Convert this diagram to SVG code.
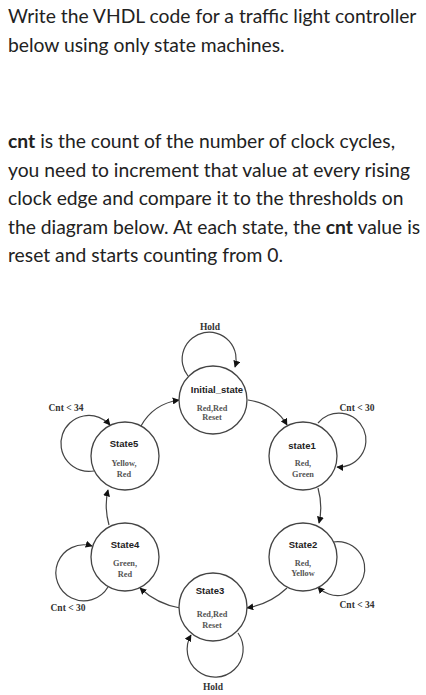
<svg xmlns="http://www.w3.org/2000/svg" width="426" height="695" viewBox="0 0 426 695">
<style>
.hd{font-family:Lato,"Open Sans",sans-serif;font-size:19.3px;fill:#222}
.b{font-weight:bold}
.nt{font-family:"Liberation Sans",Arial,sans-serif;font-weight:bold;font-size:9.5px;fill:#222;text-anchor:middle}
.ns{font-family:"Liberation Serif","Times New Roman",serif;font-weight:bold;font-size:8.3px;fill:#555;text-anchor:middle}
.lb{font-family:"Liberation Serif","Times New Roman",serif;font-weight:bold;font-size:9.5px;fill:#333;text-anchor:middle}
.st{fill:#fff;stroke:#444;stroke-width:1.3}
.cn{fill:none;stroke:#444;stroke-width:1.2;marker-end:url(#ah)}
</style>
<defs>
<marker id="ah" viewBox="0 0 10 10" refX="9" refY="5" markerWidth="7" markerHeight="7" markerUnits="userSpaceOnUse" orient="auto">
<path d="M0,0 L10,5 L0,10 z" fill="#111"/>
</marker>
</defs>
<rect width="426" height="695" fill="#fff"/>
<g id="text">
<text class="hd" x="8" y="23">Write the VHDL code for a traffic light controller</text>
<text class="hd" x="8" y="52">below using only state machines.</text>
<text class="hd" x="8" y="148"><tspan class="b">cnt</tspan> is the count of the number of clock cycles,</text>
<text class="hd" x="8" y="177">you need to increment that value at every rising</text>
<text class="hd" x="8" y="205">clock edge and compare it to the thresholds on</text>
<text class="hd" x="8" y="234">the diagram below. At each state, the <tspan class="b">cnt</tspan> value is</text>
<text class="hd" x="8" y="262">reset and starts counting from 0.</text>
</g>
<g id="connectors">
<path class="cn" d="M188,376 A27,27 0 1 1 235,367"/>
<path class="cn" d="M238,633 A28,28 0 1 1 191,635"/>
<path class="cn" d="M94,471 A28,28 0 1 1 110,425"/>
<path class="cn" d="M318,423 A27,27 0 1 1 337,467"/>
<path class="cn" d="M108,587 A28,28 0 1 1 92,546"/>
<path class="cn" d="M333,542 A27,27 0 1 1 318,587"/>
<path class="cn" d="M248,400 Q275,404 287,425"/>
<path class="cn" d="M141,426 Q153,404 179,400"/>
<path class="cn" d="M318,488 Q323,506 319,523"/>
<path class="cn" d="M109,525 Q104,507 108,490"/>
<path class="cn" d="M287,588 Q270,604 247,608"/>
<path class="cn" d="M180,608 Q157,604 140,588"/>
<text class="lb" x="210" y="330">Hold</text>
<text class="lb" x="213" y="690">Hold</text>
<text class="lb" x="66" y="411">Cnt &lt; 34</text>
<text class="lb" x="357" y="411">Cnt &lt; 30</text>
<text class="lb" x="68" y="611">Cnt &lt; 30</text>
<text class="lb" x="357" y="608">Cnt &lt; 34</text>
</g>
<g id="initial_state">
<circle class="st" cx="213" cy="400" r="34"/>
<text class="nt" x="217" y="393">Initial_state</text>
<text class="ns" x="212" y="411">Red,Red</text>
<text class="ns" x="212" y="420">Reset</text>
</g>
<g id="state1">
<circle class="st" cx="303" cy="456" r="34"/>
<text class="nt" x="302" y="449">state1</text>
<text class="ns" x="303" y="465.5">Red,</text>
<text class="ns" x="303" y="477">Green</text>
</g>
<g id="state2">
<circle class="st" cx="303" cy="557" r="34"/>
<text class="nt" x="303" y="547.5">State2</text>
<text class="ns" x="303" y="566">Red,</text>
<text class="ns" x="303" y="576">Yellow</text>
</g>
<g id="state3">
<circle class="st" cx="213" cy="607" r="34"/>
<text class="nt" x="210" y="593.5">State3</text>
<text class="ns" x="212" y="617">Red,Red</text>
<text class="ns" x="212" y="628">Reset</text>
</g>
<g id="state4">
<circle class="st" cx="125" cy="557" r="34"/>
<text class="nt" x="125" y="548">State4</text>
<text class="ns" x="125" y="566">Green,</text>
<text class="ns" x="125" y="577">Red</text>
</g>
<g id="state5">
<circle class="st" cx="125" cy="456" r="34"/>
<text class="nt" x="124" y="447">State5</text>
<text class="ns" x="124" y="466">Yellow,</text>
<text class="ns" x="124" y="477">Red</text>
</g>
</svg>
